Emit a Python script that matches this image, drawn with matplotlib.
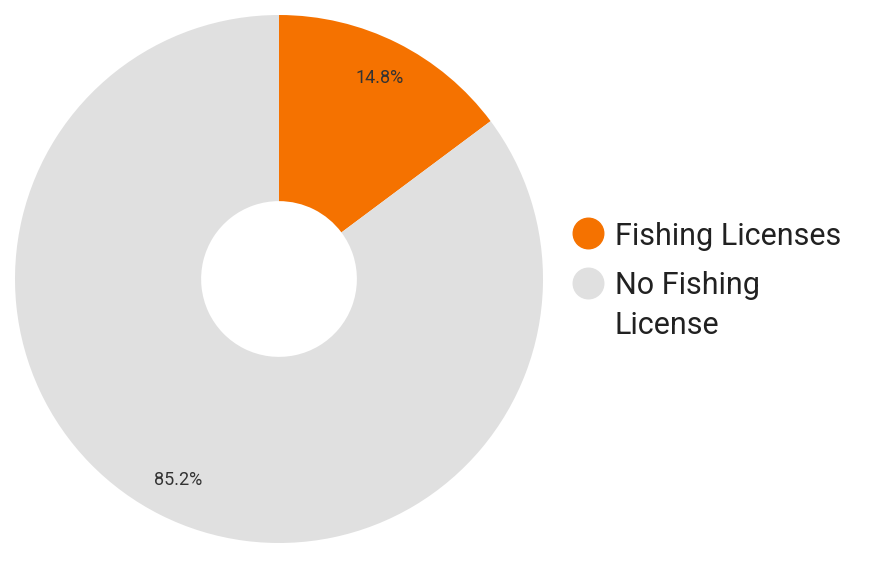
import matplotlib.pyplot as plt

# Share of people holding a fishing license
labels = ['Fishing Licenses', 'No Fishing\nLicense']
shares = [14.8, 85.2]
colors = ['#F57200', '#E0E0E0']

W, H = 895, 565
fig = plt.figure(figsize=(W / 100, H / 100), dpi=100)
plt.rcParams['font.family'] = ['Roboto', 'DejaVu Sans']


def px(x, y):
    # pixel position (from top-left) to figure fraction
    return x / W, 1 - y / H


# donut: center (279, 279), radius 264 px
ax = fig.add_axes([15 / W, (H - 543) / H, 528 / W, 528 / H])
wedges, _, autotexts = ax.pie(
    shares, colors=colors, startangle=90, counterclock=False,
    autopct='%.1f%%', pctdistance=0.852,
    wedgeprops=dict(width=1 - 0.295, linewidth=0),
    textprops=dict(fontsize=13, color='#333333'),
)
ax.set_xlim(-1, 1)
ax.set_ylim(-1, 1)
ax.set_aspect('equal')
ax.axis('off')

# legend drawn by hand
marker_y = [233, 283]
text_y = [245, 294]
for lab, col, my, ty in zip(labels, colors, marker_y, text_y):
    fig.lines.append(plt.Line2D([px(588, my)[0]], [px(588, my)[1]], marker='o',
                                markersize=22, color=col, linestyle='none',
                                transform=fig.transFigure))
    for i, line in enumerate(lab.split('\n')):
        fig.text(*px(615, ty + 40 * i), line, fontsize=22, color='#212121',
                 va='baseline', ha='left')

plt.savefig('out.png', dpi=100)
